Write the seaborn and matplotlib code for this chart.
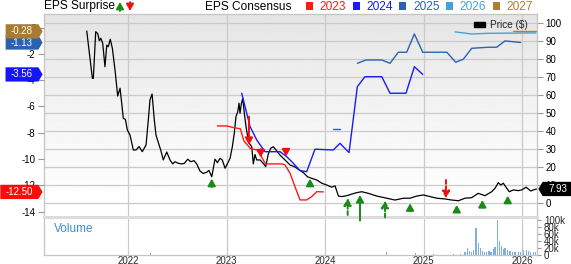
import numpy as np
import matplotlib
matplotlib.use("Agg")
import matplotlib.pyplot as plt
import seaborn as sns
from matplotlib.transforms import blended_transform_factory
from matplotlib.patches import Patch, Rectangle
from matplotlib.path import Path

# ---------------- data ----------------
price_t = [2021.581, 2021.638, 2021.648, 2021.672, 2021.692, 2021.709, 2021.723, 2021.743, 2021.766, 2021.784,
           2021.800, 2021.820, 2021.841, 2021.868, 2021.895, 2021.919, 2021.936, 2021.952, 2021.973, 2021.993,
           2022.020, 2022.054, 2022.081, 2022.112, 2022.145, 2022.183, 2022.206, 2022.223, 2022.244, 2022.267,
           2022.284, 2022.315, 2022.332, 2022.358, 2022.393, 2022.426, 2022.454, 2022.477, 2022.511, 2022.545,
           2022.572, 2022.606, 2022.637, 2022.670, 2022.697, 2022.731, 2022.764, 2022.799, 2022.822, 2022.850,
           2022.883, 2022.907, 2022.934, 2022.957, 2022.985, 2023.008, 2023.036, 2023.059, 2023.079, 2023.096,
           2023.114, 2023.127, 2023.137, 2023.150, 2023.165, 2023.181, 2023.198, 2023.215, 2023.231, 2023.256,
           2023.272, 2023.289, 2023.306, 2023.340, 2023.373, 2023.398, 2023.424, 2023.449, 2023.475, 2023.503,
           2023.543, 2023.577, 2023.612, 2023.645, 2023.689, 2023.729, 2023.780, 2023.821, 2023.865, 2023.916,
           2023.967, 2024.018, 2024.068, 2024.102, 2024.136, 2024.170, 2024.221, 2024.272, 2024.322, 2024.373,
           2024.440, 2024.525, 2024.627, 2024.711, 2024.796, 2024.863, 2024.931, 2024.999, 2025.066, 2025.134,
           2025.218, 2025.286, 2025.354, 2025.421, 2025.489, 2025.556, 2025.624, 2025.692, 2025.726, 2025.759,
           2025.784, 2025.810, 2025.845, 2025.871, 2025.912, 2025.963, 2025.997, 2026.041, 2026.089, 2026.132,
           2026.152]
price_v = [95.4, 69.2, 69.2, 95.0, 94.0, 90.0, 91.4, 88.6, 75.6, 87.6,
           86.7, 90.8, 85.8, 73.8, 59.4, 63.7, 55.4, 47.0, 46.5, 40.6,
           37.8, 29.5, 29.5, 31.4, 28.6, 32.3, 46.1, 57.3, 60.5, 46.1,
           37.8, 32.3, 29.5, 24.0, 28.4, 24.0, 21.8, 23.0, 22.1, 21.8,
           22.1, 24.4, 23.0, 23.6, 21.8, 17.8, 16.5, 17.2, 18.2, 14.7,
           24.4, 22.5, 24.9, 24.0, 19.4, 21.8, 24.9, 31.3, 38.8, 48.0,
           50.7, 55.4, 49.8, 55.0, 58.0, 49.8, 42.4, 36.9, 33.2, 31.3,
           21.8, 27.0, 24.0, 24.0, 22.1, 20.3, 27.3, 30.5, 31.3, 29.5,
           26.7, 24.9, 23.0, 21.2, 20.3, 18.8, 17.0, 14.7, 13.8, 12.9,
           11.1, 10.1, 8.9, 9.6, 4.0, 3.7, 4.2, 5.1, 5.9, 6.4,
           5.5, 4.0, 2.8, 1.8, 2.8, 2.8, 4.0, 4.6, 3.7, 2.8,
           2.4, 1.8, 1.4, 2.8, 3.1, 5.5, 4.2, 6.4, 8.3, 11.4,
           10.1, 11.1, 8.3, 6.4, 7.4, 7.0, 7.4, 8.9, 6.8, 7.7,
           7.93]

eps23_t = [2022.907, 2023.003, 2023.069, 2023.141, 2023.175, 2023.243, 2023.310, 2023.345, 2023.395, 2023.565,
           2023.594, 2023.645, 2023.695, 2023.746, 2023.814, 2023.865, 2023.916, 2023.983]
eps23_v = [-7.48, -7.48, -7.60, -7.70, -8.60, -9.20, -9.31, -9.69, -10.37, -10.37,
           -10.45, -11.08, -12.10, -13.11, -13.11, -12.86, -12.48, -12.50]

eps24_t = [2023.154, 2023.188, 2023.239, 2023.307, 2023.391, 2023.543, 2023.611, 2023.678, 2023.746, 2023.814,
           2023.898, 2024.084, 2024.152, 2024.244, 2024.328, 2024.406, 2024.576, 2024.660, 2024.822, 2024.907,
           2024.992]
eps24_v = [-4.99, -6.01, -7.53, -8.55, -9.44, -9.44, -9.82, -10.32, -10.88, -10.96,
           -9.25, -9.31, -8.80, -9.51, -4.49, -3.73, -3.73, -4.99, -4.99, -2.97,
           -3.56]

eps25a_t = [2024.084, 2024.152]
eps25a_v = [-7.73, -7.73]
eps25_t = [2024.328, 2024.416, 2024.576, 2024.660, 2024.744, 2024.829, 2024.907, 2024.992, 2025.236, 2025.327,
           2025.404, 2025.489, 2025.658, 2025.743, 2025.827, 2025.912, 2025.987]
eps25_v = [-2.71, -2.46, -2.46, -2.71, -1.87, -1.87, -0.48, -1.87, -1.87, -2.63,
           -2.40, -1.57, -1.49, -1.49, -1.01, -1.07, -1.13]

eps26_t = [2025.320, 2025.489, 2025.658, 2026.142]
eps26_v = [-0.32, -0.48, -0.43, -0.40]

eps27_t = [2025.912, 2026.142]
eps27_v = [-0.22, -0.22]

vol_t = [2022.230, 2024.627, 2024.914, 2025.100, 2025.300, 2025.380, 2025.421, 2025.445, 2025.465, 2025.489,
         2025.506, 2025.533, 2025.556, 2025.574, 2025.597, 2025.617, 2025.642, 2025.665, 2025.685, 2025.709,
         2025.726, 2025.749, 2025.769, 2025.787, 2025.810, 2025.827, 2025.851, 2025.878, 2025.906, 2025.929,
         2025.962, 2025.980, 2026.013, 2026.041, 2026.064, 2026.089, 2026.115, 2026.139]
vol_v = [4000, 8000, 5000, 2000, 2500, 3000, 7000, 20000, 12000, 9000,
         14000, 79000, 34000, 20000, 10000, 7000, 9000, 12000, 7000, 17000,
         22000, 100000, 40000, 25000, 17000, 19000, 15000, 12000, 9000, 7000,
         7000, 9000, 13000, 14000, 12000, 7000, 9000, 7000]

# EPS surprise arrows (price-axis units)
up_t = [2022.850, 2023.848, 2024.230, 2024.355, 2024.609, 2024.863, 2025.337, 2025.597, 2025.855]
up_tip = [13.6, 13.6, 2.8, 4.6, 1.4, 0.0, -0.9, 1.8, 4.2]
up_tail = [9.0, 9.6, -6.5, -9.6, -7.8, -3.7, -4.3, -1.5, 0.7]
up_dashed = [False, False, True, False, True, False, False, False, False]
down_t = [2023.228, 2023.347, 2023.604, 2025.228]
down_tail = [48.0, 30.0, 29.8, 12.9]
down_tip = [32.3, 25.4, 25.9, 2.8]
down_dashed = [False, False, False, True]

year_ticks = [2022, 2023, 2024, 2025, 2026]
year_labels = ["2022", "2023", "2024", "2025", "2026"]
eps_ticks = [0, -2, -4, -6, -8, -10, -12, -14]
price_ticks = [0, 10, 20, 30, 40, 50, 60, 70, 80, 90, 100]
vol_ticks = [0, 20000, 40000, 60000, 80000, 100000]
vol_labels = ["0", "20k", "40k", "60k", "80k", "100k"]

series_years = ["2023", "2024", "2025", "2026", "2027"]
tag_values = [-12.50, -3.56, -1.13, -0.28]
last_price = 7.93

# ---------------- style ----------------
c23, c24, c25, c26, c27 = "#ff1a1a", "#1a1aff", "#2b62b0", "#40a4d8", "#b07d35"
series_colors = [c23, c24, c25, c26, c27]
tag_colors = ["#ff0a0a", "#1414ff", "#2b62b0", "#a87a32"]
green, red = "#1a8a1a", "#ee1111"
gridc = "#cacaca"
head = "-|>,head_length=0.34,head_width=0.19"

sns.set_theme(style="white")
plt.rcParams['font.family'] = ['Liberation Sans', 'DejaVu Sans']
plt.rcParams['axes.unicode_minus'] = False

W, H = 571, 264
fig = plt.figure(figsize=(W / 100, H / 100), dpi=100)
fig.patch.set_facecolor("white")


def fr(x0, y0, x1, y1):
    return [x0 / W, 1 - y1 / H, (x1 - x0) / W, (y1 - y0) / H]


main_rect = fr(44, 14, 537, 217)
vol_rect = fr(44, 219, 537, 254.7)

# background gradient
axbg = fig.add_axes(main_rect, zorder=0)
axbg.axis("off")
tt = np.linspace(0, 1, 256)
grad = (1 - 0.105 * (1 - tt) ** 1.3).reshape(-1, 1)
axbg.imshow(grad, aspect="auto", cmap="gray", vmin=0, vmax=1, extent=[0, 1, 0, 1])

axp = fig.add_axes(main_rect, zorder=1)
ax = fig.add_axes(main_rect, zorder=2, sharex=axp)
axv = fig.add_axes(vol_rect, zorder=1, sharex=axp)
for a in (axp, ax):
    a.patch.set_visible(False)

xlim = (2021.147, 2026.152)

# price line
sns.lineplot(x=price_t, y=price_v, ax=axp, color="black", lw=0.9, estimator=None, sort=False)
axp.set_xlim(*xlim)
axp.set_ylim(-7.6, 104.8)
axp.yaxis.tick_right()
axp.set_yticks(price_ticks)
axp.set_yticklabels([str(v) for v in price_ticks])
axp.set_xticks(year_ticks)
axp.tick_params(axis="x", length=0, labelbottom=False)
axp.tick_params(axis="y", right=True, length=4, width=0.8, color="#999999", labelsize=7, pad=2, colors="black")
axp.grid(True, color=gridc, lw=0.9)
axp.set_axisbelow(True)
for s in axp.spines.values():
    s.set_color("#c4c4c4")
    s.set_linewidth(0.9)
axp.spines["bottom"].set_color("#dcdcdc")
axp.spines["bottom"].set_linewidth(2.2)
axp.set_xlabel("")
axp.set_ylabel("")

# consensus lines (EPS, left axis)
for tx, vy, col in [(eps23_t, eps23_v, c23), (eps24_t, eps24_v, c24), (eps25a_t, eps25a_v, c25),
                    (eps25_t, eps25_v, c25), (eps26_t, eps26_v, c26), (eps27_t, eps27_v, c27)]:
    sns.lineplot(x=tx, y=vy, ax=ax, color=col, lw=1.0, estimator=None, sort=False)
ax.set_xlim(*xlim)
ax.set_ylim(-14.41, 1.04)
ax.set_yticks(eps_ticks)
ax.set_yticklabels([str(v) for v in eps_ticks])
ax.tick_params(axis="y", left=True, length=4, width=0.8, color="#999999", labelsize=7, pad=2, colors="black")
ax.tick_params(axis="x", length=0, labelbottom=False)
for s in ax.spines.values():
    s.set_visible(False)
ax.set_xlabel("")
ax.set_ylabel("")

# surprise arrows
for t, tip, tail, dsh in zip(up_t, up_tip, up_tail, up_dashed):
    ax.annotate("", xy=(t, tip), xytext=(t, tail), xycoords=axp.transData, textcoords=axp.transData,
                annotation_clip=False,
                arrowprops=dict(arrowstyle=head, color=green, lw=1.4,
                                linestyle=(0, (2, 1.2)) if dsh else "-", shrinkA=0, shrinkB=0))
for t, tail, tip, dsh in zip(down_t, down_tail, down_tip, down_dashed):
    ax.annotate("", xy=(t, tip), xytext=(t, tail), xycoords=axp.transData, textcoords=axp.transData,
                annotation_clip=False,
                arrowprops=dict(arrowstyle=head, color=red, lw=1.4,
                                linestyle=(0, (2, 1.2)) if dsh else "-", shrinkA=0, shrinkB=0))


# value tags
def tag_box(direction):
    def box(x0, y0, width, height, mutation_size):
        hp, vp = 0.55 * mutation_size, 0.22 * mutation_size
        xa, ya = x0 - hp, y0 - vp
        xb, yb = x0 + width + hp, y0 + height + vp
        tip = 0.3 * (yb - ya)
        ym = (ya + yb) / 2
        if direction == "right":
            verts = [(xa, ya), (xb, ya), (xb + tip, ym), (xb, yb), (xa, yb), (xa, ya)]
        else:
            verts = [(xa, ya), (xb, ya), (xb, yb), (xa, yb), (xa - tip, ym), (xa, ya)]
        return Path(verts, closed=True)
    return box


trans_l = blended_transform_factory(ax.transAxes, ax.transData)
for i, (val, col) in enumerate(zip(tag_values, tag_colors)):
    ax.text((33 - 44) / 493, val, f"{val:.2f}", transform=trans_l, ha="right", va="center",
            color="white", fontsize=7, clip_on=False, zorder=10 + i,
            bbox=dict(boxstyle=tag_box("right"), fc=col, ec="none"))
trans_r = blended_transform_factory(ax.transAxes, axp.transData)
ax.text((548 - 44) / 493, last_price, f"{last_price:.2f}", transform=trans_r, ha="left", va="center",
        color="white", fontsize=7, clip_on=False, zorder=20,
        bbox=dict(boxstyle=tag_box("left"), fc="black", ec="none"))

# price legend
leg = axp.legend(handles=[Patch(facecolor="black", edgecolor="black")], labels=["Price ($)"],
                 loc="upper right", bbox_to_anchor=(1 - 9 / 493, 1 - 6 / 203), borderaxespad=0,
                 borderpad=0, frameon=False, fontsize=7.2, handlelength=1.1, handleheight=0.5,
                 handletextpad=0.5)

# volume panel
axv.bar(vol_t, vol_v, width=0.011, color="#7fb0dd", linewidth=0)
axv.set_xlim(*xlim)
axv.set_ylim(0, 104000)
axv.yaxis.tick_right()
axv.set_yticks(vol_ticks)
axv.set_yticklabels(vol_labels)
axv.tick_params(axis="y", right=True, length=3, width=0.8, color="#999999", labelsize=7, pad=2)
axv.set_xticks(year_ticks)
axv.set_xticklabels(year_labels)
axv.tick_params(axis="x", length=0, labelsize=7, pad=0.6)
axv.grid(True, axis="x", color=gridc, lw=0.9)
axv.grid(False, axis="y")
axv.set_axisbelow(True)
for s in axv.spines.values():
    s.set_color("#c4c4c4")
    s.set_linewidth(0.9)
axv.spines["top"].set_visible(False)
axv.text(10 / 493, 0.72, "Volume", transform=axv.transAxes, color="#3b8ed0", fontsize=8.5,
         ha="left", va="center")

# header legends
base = 1 - 9.5 / H
fig.text(44 / W, base, "EPS Surprise", fontsize=8.6, va="baseline", ha="left", color="black")
axp.annotate("", xy=(120, H - 2), xytext=(120, H - 11), xycoords="figure pixels",
             annotation_clip=False,
             arrowprops=dict(arrowstyle=head, color=green, lw=1.3, shrinkA=0, shrinkB=0))
axp.annotate("", xy=(130, H - 11), xytext=(130, H - 2), xycoords="figure pixels",
             annotation_clip=False,
             arrowprops=dict(arrowstyle=head, color=red, lw=1.3, shrinkA=0, shrinkB=0))
fig.text(205 / W, base, "EPS Consensus", fontsize=8.6, va="baseline", ha="left", color="black")
sq_x = [306, 353, 399, 446, 493]
tx_x = [319, 366, 413, 459, 506]
for sx, txx, yr, col in zip(sq_x, tx_x, series_years, series_colors):
    fig.add_artist(Rectangle((sx / W, 1 - 9.5 / H), 6.5 / W, 7.5 / H, transform=fig.transFigure,
                             facecolor=col, edgecolor="none"))
    fig.text(txx / W, base, yr, fontsize=8.6, va="baseline", ha="left", color=col)

fig.savefig("out.png", dpi=100)
